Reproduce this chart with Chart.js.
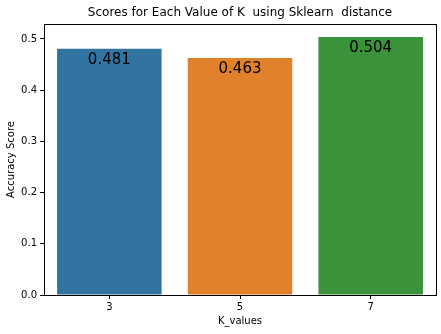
<!DOCTYPE html>
<html>
<head>
<meta charset="utf-8">
<script src="https://cdn.jsdelivr.net/npm/chart.js@4"></script>
<style>
  html, body { margin: 0; padding: 0; background: #fff; }
  #wrap { width: 441px; height: 334px; }
</style>
</head>
<body>
<div id="wrap"><canvas id="scoreChart" width="441" height="334"></canvas></div>
<script>
"use strict";

// Data
const kValues = ['3', '5', '7'];
const scores = [0.481, 0.463, 0.504];
const barColors = ['#3274a1', '#e1812c', '#3a923a'];
const yTicks = [0, 0.1, 0.2, 0.3, 0.4, 0.5];
const titleText = 'Scores for Each Value of K  using Sklearn  distance';

const FONT = "'DejaVu Sans', sans-serif";

// frame around the plot area (matplotlib spines) + title centred on it
const framePlugin = {
    id: 'frame',
    afterDraw(chart) {
        const a = chart.chartArea;
        const ctx = chart.ctx;
        ctx.save();
        ctx.strokeStyle = '#000';
        ctx.lineWidth = 1;
        ctx.strokeRect(Math.round(a.left) + 0.5, Math.round(a.top) + 0.5,
            Math.round(a.right - a.left), Math.round(a.bottom - a.top));
        ctx.fillStyle = '#000';
        ctx.font = '12px ' + FONT;
        ctx.textAlign = 'center';
        ctx.textBaseline = 'middle';
        ctx.fillText(titleText, (a.left + a.right) / 2, 13);
        ctx.restore();
    }
};

// value labels just under the top of each bar
const valueLabels = {
    id: 'valueLabels',
    afterDatasetsDraw(chart) {
        const ctx = chart.ctx;
        const meta = chart.getDatasetMeta(0);
        ctx.save();
        ctx.fillStyle = '#000';
        ctx.font = '15px ' + FONT;
        ctx.textAlign = 'center';
        ctx.textBaseline = 'middle';
        meta.data.forEach((bar, i) => {
            ctx.fillText(scores[i].toFixed(3), bar.x, bar.y + 11);
        });
        ctx.restore();
    }
};

const ctx = document.getElementById('scoreChart').getContext('2d');
new Chart(ctx, {
    type: 'bar',
    data: {
        labels: kValues,
        datasets: [{
            data: scores,
            backgroundColor: barColors,
            borderWidth: 0,
            barPercentage: 0.8,
            categoryPercentage: 1.0
        }]
    },
    options: {
        responsive: false,
        animation: false,
        devicePixelRatio: 1,
        layout: { padding: { top: 24, right: 5, bottom: 7, left: 5 } },
        plugins: {
            legend: { display: false },
            tooltip: { enabled: false },
            title: { display: false }
        },
        scales: {
            x: {
                offset: true,
                grid: { display: true, offset: false, drawOnChartArea: false, tickLength: 4, color: '#000' },
                border: { display: false },
                ticks: { color: '#000', font: { family: FONT, size: 10 }, padding: 2, maxRotation: 0 },
                title: {
                    display: true, text: 'K_values', color: '#000',
                    font: { family: FONT, size: 10 }, padding: { top: 3, bottom: 0 }
                },
                afterFit(scale) { scale.height = 32; }
            },
            y: {
                min: 0,
                max: 0.5292,
                afterBuildTicks(scale) { scale.ticks = yTicks.map(v => ({ value: v })); },
                grid: { display: true, drawOnChartArea: false, tickLength: 4, color: '#000' },
                border: { display: false },
                ticks: {
                    color: '#000', font: { family: FONT, size: 10 }, padding: 3,
                    callback: v => Number(v).toFixed(1)
                },
                title: {
                    display: true, text: 'Accuracy Score', color: '#000',
                    font: { family: FONT, size: 10 }, padding: { top: 0, bottom: 3 }
                },
                afterFit(scale) { scale.width = 39; }
            }
        }
    },
    plugins: [framePlugin, valueLabels]
});
</script>
</body>
</html>
